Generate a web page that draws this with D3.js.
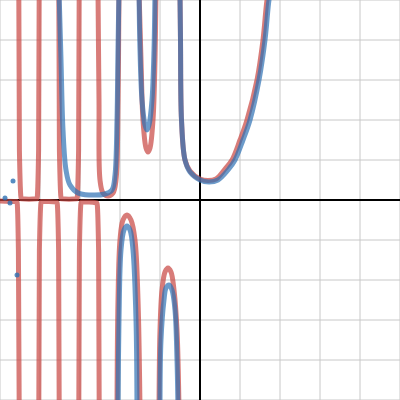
<!DOCTYPE html><html><head><script src="https://cdn.jsdelivr.net/npm/d3@7"></script>
<style>body{margin:0;background:#fff}</style></head><body><svg id="c" width="400" height="400"></svg>
<script>
const gridTicks=[-5,-4,-3,-2,-1,0,1,2,3,4,5];
const redNarrow=[
 [[-5.1,-0.02],[-4.575,-0.04],[-4.54,-1.25],[-4.52,-5.25]],
 [[-4.53,5.25],[-4.515,1.25],[-4.47,0.03],[-4.275,0.02],[-4.075,0.03],[-4.035,1.25],[-4.02,5.25]],
 [[-4.03,-5.25],[-4.015,-1.25],[-3.97,-0.04],[-3.775,-0.04],[-3.575,-0.05],[-3.535,-1.25],[-3.52,-5.25]],
 [[-3.53,5.25],[-3.515,1.25],[-3.47,0.03],[-3.275,0.02],[-3.075,0.03],[-3.035,1.25],[-3.02,5.25]],
 [[-3.03,-5.25],[-3.015,-1.25],[-2.97,-0.05],[-2.775,-0.05],[-2.575,-0.075],[-2.535,-1.25],[-2.52,-5.25]]
];
const redBranches=[
 [[-2.55,5.25],[-2.525,2.5],[-2.5,0.5],[-2.425,0.175],[-2.3,0.1],[-2.175,0.175],[-2.1,0.5],[-2.05,2.5],[-2.025,5.25]],
 [[-2.075,-5.25],[-2.05,-2.5],[-2,-1],[-1.925,-0.5],[-1.825,-0.375],[-1.725,-0.5],[-1.625,-1],[-1.55,-2.5],[-1.5,-5.25]],
 [[-1.525,5.25],[-1.475,3.5],[-1.425,2],[-1.35,1.3],[-1.3,1.2],[-1.25,1.3],[-1.175,2],[-1.125,3.5],[-1.1,5.25]],
 [[-1.025,-5.25],[-1,-3.25],[-0.95,-2.25],[-0.875,-1.8],[-0.8,-1.7],[-0.725,-1.8],[-0.65,-2.25],[-0.575,-3.25],[-0.525,-5.25]],
 [[-0.5,5.125],[-0.4875,4],[-0.4625,2],[-0.375,1],[-0.25,0.725],[0,0.525],[0.2,0.4875],[0.4,0.525],[0.625,0.775],[0.8,1],[1.0,1.5],[1.175,2],[1.425,3],[1.575,4],[1.675,5],[1.725,5.25]]
];
const blueBranches=[
 [[-3.525,5.25],[-3.475,3.5],[-3.425,1.75],[-3.35,0.75],[-3.25,0.375],[-3.05,0.175],[-2.75,0.125],[-2.375,0.15],[-2.2,0.25],[-2.125,0.625],[-2.075,2],[-2.05,3.75],[-2.025,5.25]],
 [[-2.05,-5.25],[-2.025,-3],[-1.975,-1.25],[-1.9,-0.75],[-1.825,-0.65],[-1.75,-0.75],[-1.675,-1.25],[-1.6,-3],[-1.575,-5.25]],
 [[-1.525,5.25],[-1.5,3.75],[-1.45,2.5],[-1.375,1.875],[-1.325,1.75],[-1.275,1.875],[-1.2,2.5],[-1.15,3.75],[-1.125,5.25]],
 [[-1,-5.25],[-0.975,-3.5],[-0.9,-2.5],[-0.85,-2.2],[-0.775,-2.125],[-0.7,-2.25],[-0.625,-2.75],[-0.575,-4],[-0.55,-5.25]],
 [[-0.5,5.125],[-0.4875,4],[-0.4625,2],[-0.375,1],[-0.25,0.7],[0,0.5],[0.225,0.45],[0.45,0.5],[0.7,0.75],[0.875,1],[1.075,1.5],[1.25,2],[1.475,3],[1.625,4],[1.725,5],[1.775,5.25]]
];
const blueDots=[[-4.875,0.05],[-4.675,0.475],[-4.75,-0.075],[-4.575,-1.875]];
const svg=d3.select('#c');
const x=d3.scaleLinear().domain([-5,5]).range([0,400]);
const y=d3.scaleLinear().domain([-5,5]).range([400,0]);
svg.append('defs').append('clipPath').attr('id','cp').append('rect').attr('width',400).attr('height',400);
const g=svg.append('g').attr('clip-path','url(#cp)');
g.selectAll('.vg').data(gridTicks).enter().append('line').attr('x1',d=>x(d)).attr('x2',d=>x(d)).attr('y1',0).attr('y2',400).attr('stroke','#c8c8c8').attr('stroke-width',1);
g.selectAll('.hg').data(gridTicks).enter().append('line').attr('y1',d=>y(d)).attr('y2',d=>y(d)).attr('x1',0).attr('x2',400).attr('stroke','#c8c8c8').attr('stroke-width',1);
g.append('line').attr('x1',x(0)).attr('x2',x(0)).attr('y1',0).attr('y2',400).attr('stroke','#000').attr('stroke-width',2);
g.append('line').attr('y1',y(0)).attr('y2',y(0)).attr('x1',0).attr('x2',400).attr('stroke','#000').attr('stroke-width',2);
const lineM=d3.line().x(d=>x(d[0])).y(d=>y(d[1])).curve(d3.curveMonotoneX);
const line=d3.line().x(d=>x(d[0])).y(d=>y(d[1])).curve(d3.curveCatmullRom.alpha(0.5));
g.selectAll('.rn').data(redNarrow).enter().append('path').attr('d',lineM).attr('fill','none').attr('stroke','#c74440').attr('stroke-opacity',0.7).attr('stroke-width',5);
g.selectAll('.r').data(redBranches).enter().append('path').attr('d',line).attr('fill','none').attr('stroke','#c74440').attr('stroke-opacity',0.7).attr('stroke-width',5);
g.selectAll('.b').data(blueBranches).enter().append('path').attr('d',line).attr('fill','none').attr('stroke','#2d70b3').attr('stroke-opacity',0.7).attr('stroke-width',5);
g.selectAll('.d').data(blueDots).enter().append('circle').attr('cx',d=>x(d[0])).attr('cy',d=>y(d[1])).attr('r',2.5).attr('fill','#2d70b3').attr('opacity',0.8);
</script></body></html>
